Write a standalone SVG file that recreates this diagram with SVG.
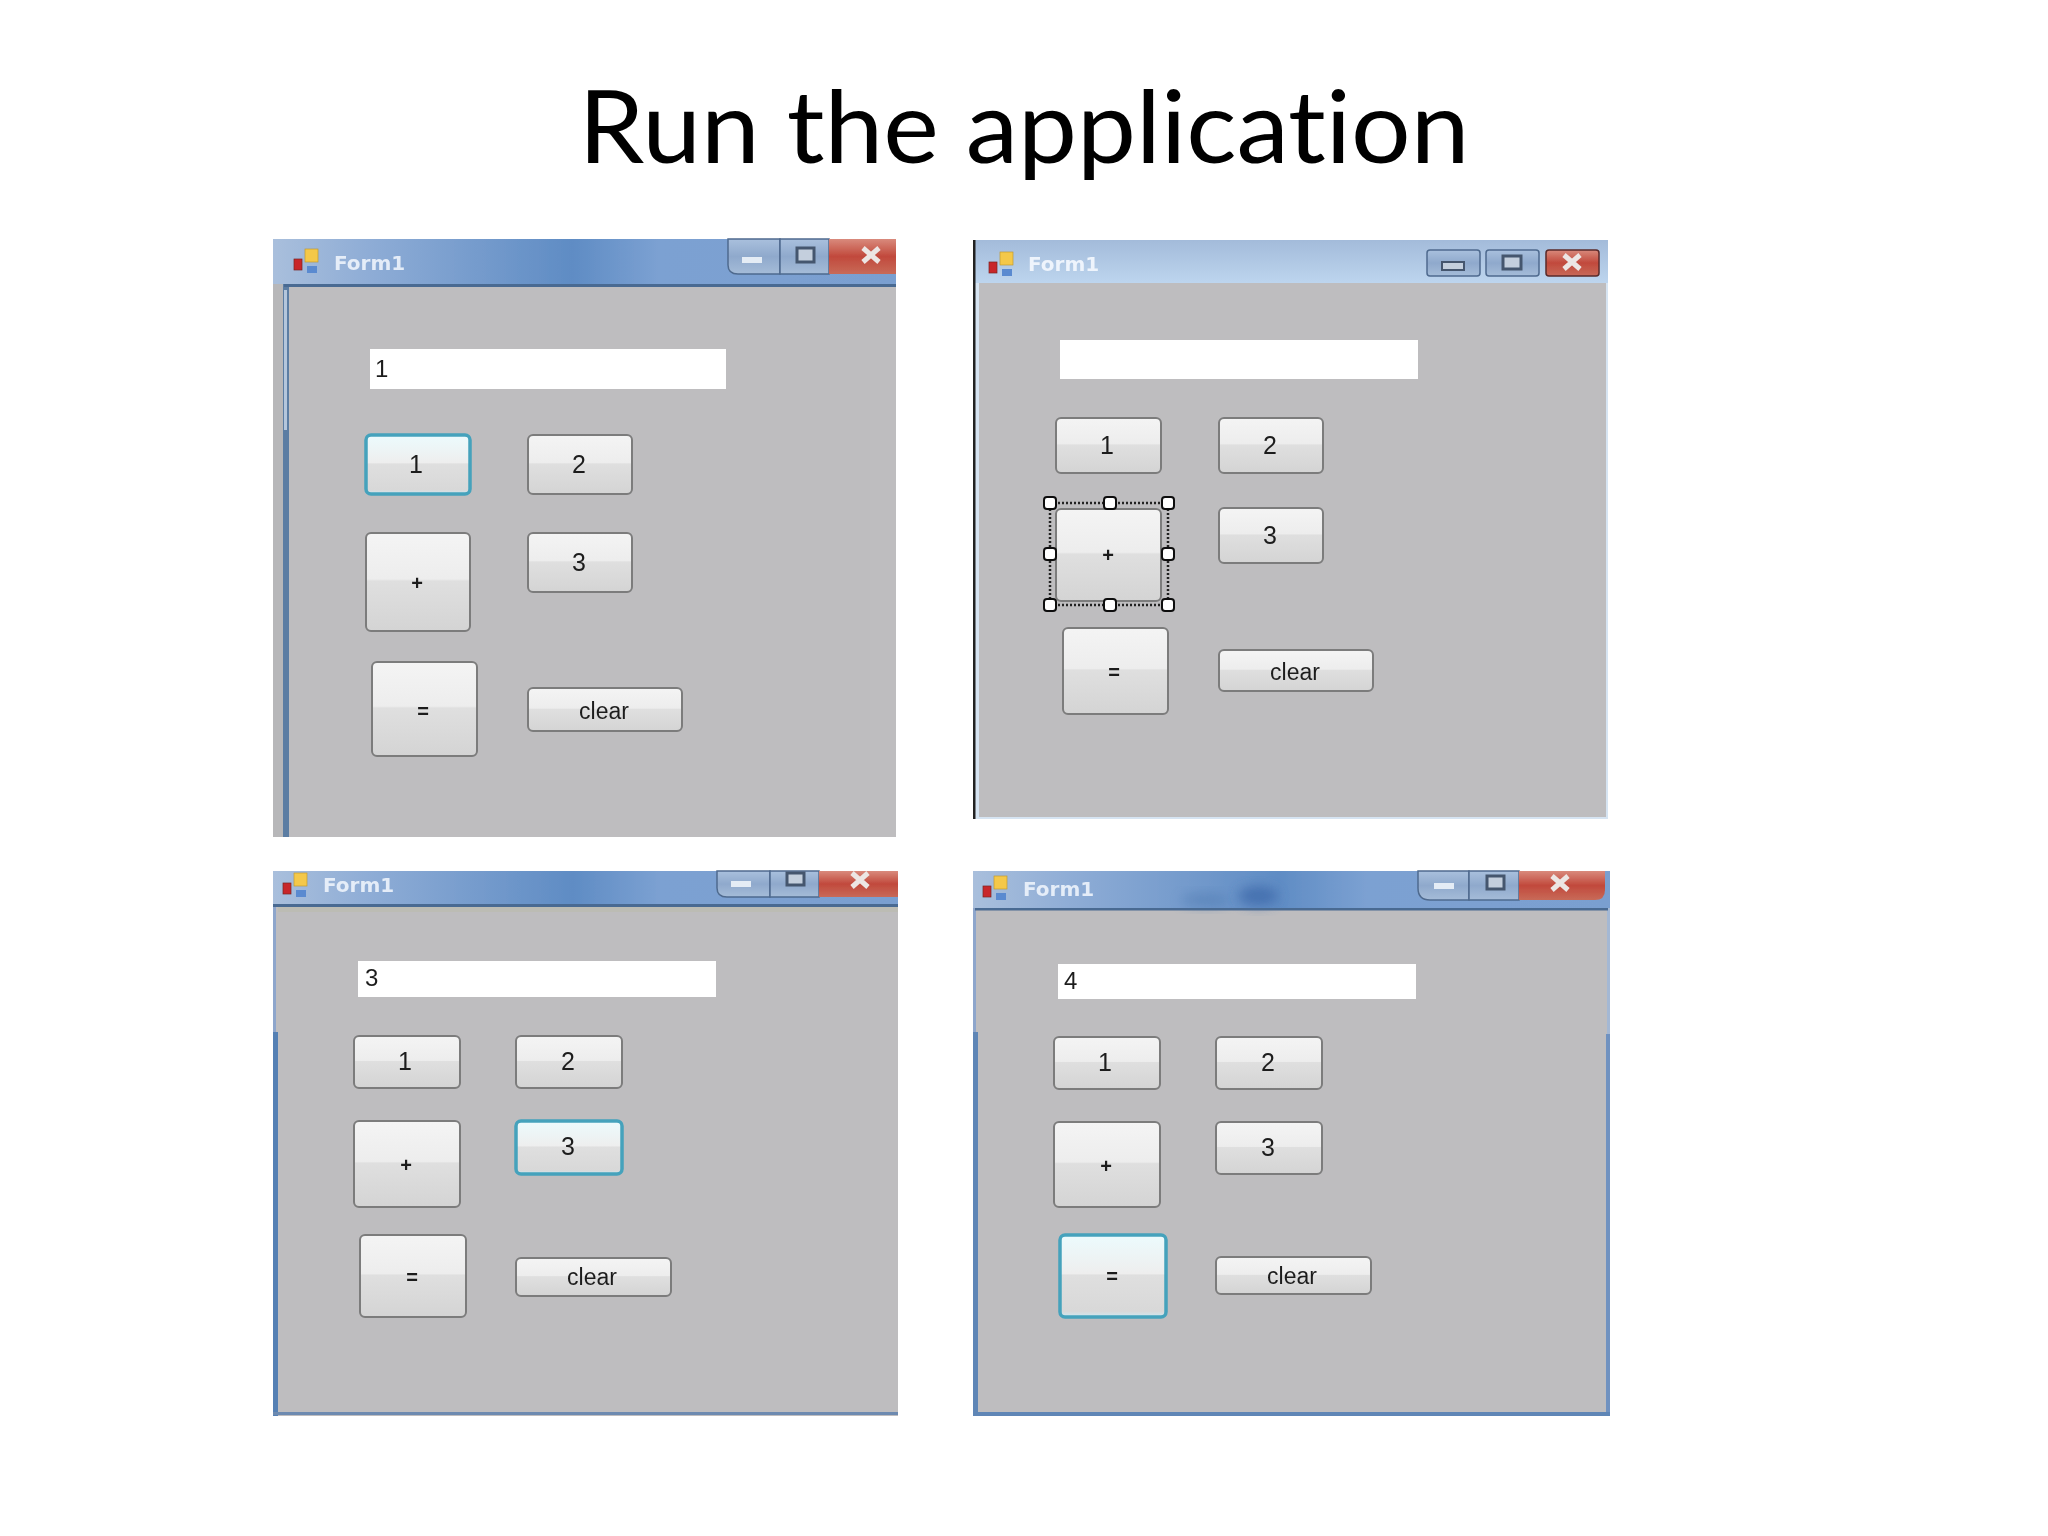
<svg xmlns="http://www.w3.org/2000/svg" width="2048" height="1536" viewBox="0 0 2048 1536">
<defs>
<filter id="soft" x="-5%" y="-5%" width="110%" height="110%"><feGaussianBlur stdDeviation="0.55"/></filter>
<filter id="capblur" x="-10%" y="-20%" width="120%" height="140%"><feGaussianBlur stdDeviation="0.7"/></filter>
<filter id="smudge" x="-50%" y="-50%" width="200%" height="200%"><feGaussianBlur stdDeviation="6"/></filter>
<linearGradient id="btn" x1="0" y1="0" x2="0" y2="1"><stop offset="0" stop-color="#f4f4f4"/><stop offset="0.47" stop-color="#ededed"/><stop offset="0.49" stop-color="#dfdfdf"/><stop offset="1" stop-color="#d4d4d4"/></linearGradient>
<linearGradient id="focus" x1="0" y1="0" x2="0" y2="1"><stop offset="0" stop-color="#ecfbfd"/><stop offset="0.47" stop-color="#eeeeee"/><stop offset="0.49" stop-color="#dfdfdf"/><stop offset="0.93" stop-color="#d8d8d8"/><stop offset="1" stop-color="#cfe9f2"/></linearGradient>
<linearGradient id="barDark" x1="0" y1="0" x2="1" y2="0"><stop offset="0" stop-color="#a9bfdc"/><stop offset="0.15" stop-color="#8fadd6"/><stop offset="0.48" stop-color="#5f8cc4"/><stop offset="0.62" stop-color="#7ca1d2"/><stop offset="1" stop-color="#7a9fd0"/></linearGradient>
<linearGradient id="barLight" x1="0" y1="0" x2="0" y2="1"><stop offset="0" stop-color="#a3bbda"/><stop offset="1" stop-color="#bdd5ee"/></linearGradient>
<linearGradient id="red" x1="0" y1="0" x2="0" y2="1"><stop offset="0" stop-color="#d98a7c"/><stop offset="0.5" stop-color="#c1493c"/><stop offset="1" stop-color="#c86a58"/></linearGradient>
<linearGradient id="ctl" x1="0" y1="0" x2="0" y2="1"><stop offset="0" stop-color="#a9c0dd"/><stop offset="0.5" stop-color="#8fa9cc"/><stop offset="1" stop-color="#a5bcd8"/></linearGradient>
<g id="icon"><rect x="0" y="10" width="8" height="11" fill="#c8282c" stroke="#7a2020" stroke-width="0.7"/><rect x="11" y="0" width="13" height="13" fill="#f4c84a" stroke="#c09a30" stroke-width="0.7"/><rect x="13" y="17" width="10" height="7" fill="#5a8ad0"/></g>
<path id="cross" d="M-8 -7L8 7M8 -7L-8 7" fill="none" stroke="#ece6e4" stroke-width="5"/>
</defs>
<style>
text{font-family:"Liberation Sans",Arial,sans-serif;fill:#1f1f1f}
svg>g{filter:url(#soft)}
.t{font-family:Lato,"Open Sans",sans-serif;font-size:100px;fill:#000;font-variant-ligatures:none}
.form{fill:#bebdbf}
.b{fill:url(#btn);stroke:#7c7c7c;stroke-width:2}
.f{fill:url(#focus);stroke:#45a2bc;stroke-width:3.5}
.box{fill:#fff}
.n{font-size:25px;text-anchor:middle}
.s{font-size:20px;text-anchor:middle;font-weight:bold}
.c{font-size:23px;text-anchor:middle}
.v{font-size:24px}
.cap{font-family:"DejaVu Sans",sans-serif;font-size:20px;font-weight:bold;fill:#eef4fc}
.cb{filter:url(#capblur);opacity:.9}
.h{fill:#fff;stroke:#111;stroke-width:2}
.sel{fill:none;stroke:#222;stroke-width:2.5;stroke-dasharray:2 2}
.cw{fill:url(#ctl);stroke:#4f6a8e;stroke-width:1.5}
.cd{fill:#e4ecf5}
.cm{fill:#c4cfdd;stroke:#44566e;stroke-width:3}
</style>
<rect width="2048" height="1536" fill="#fff"/>
<text id="title" class="t" x="1024" y="163" text-anchor="middle" textLength="891" lengthAdjust="spacingAndGlyphs">Run the application</text>

<g id="form-a">
<rect x="273" y="239" width="623" height="598" class="form"/>
<rect x="273" y="239" width="623" height="45" fill="url(#barDark)"/>
<rect x="273" y="284" width="16" height="553" fill="#b7b7b9"/>
<rect x="283" y="284" width="6" height="553" fill="#5b7da3"/>
<rect x="284" y="290" width="3" height="140" fill="#b4c6dc"/>
<rect x="284" y="284" width="612" height="3" fill="#4a6a92"/>
<use href="#icon" x="294" y="249"/>
<text class="cap cb" x="334" y="270">Form1</text>
<path d="M728 239V265Q728 274 738 274H780V239Z" class="cw"/>
<rect x="780" y="239" width="49" height="35" class="cw"/>
<rect x="829" y="239" width="67" height="35" fill="url(#red)"/>
<rect x="742" y="257" width="20" height="6" class="cd"/>
<rect x="797" y="248" width="17" height="14" class="cm"/>
<use href="#cross" x="871" y="255"/>
</g>
<g id="form-a-text"><rect x="370" y="349" width="356" height="40" class="box"/><text class="v" x="375" y="377">1</text></g>
<g id="a-btn-1"><rect x="366" y="435" width="104" height="59" rx="5" class="f"/><text class="n" x="416" y="473">1</text></g>
<g id="a-btn-2"><rect x="528" y="435" width="104" height="59" rx="5" class="b"/><text class="n" x="579" y="473">2</text></g>
<g id="a-btn-plus"><rect x="366" y="533" width="104" height="98" rx="5" class="b"/><text class="s" x="417" y="590">+</text></g>
<g id="a-btn-3"><rect x="528" y="533" width="104" height="59" rx="5" class="b"/><text class="n" x="579" y="571">3</text></g>
<g id="a-btn-eq"><rect x="372" y="662" width="105" height="94" rx="5" class="b"/><text class="s" x="423" y="718">=</text></g>
<g id="a-btn-clear"><rect x="528" y="688" width="154" height="43" rx="5" class="b"/><text class="c" x="604" y="719">clear</text></g>

<g id="form-b">
<rect x="973" y="240" width="635" height="579" fill="#d6e4f2"/>
<rect x="973" y="240" width="635" height="43" fill="url(#barLight)"/>
<rect x="973" y="240" width="2.5" height="579" fill="#222"/>
<rect x="979" y="283" width="627" height="534" class="form"/>
<use href="#icon" x="989" y="252"/>
<text class="cap" x="1028" y="271">Form1</text>
<rect x="1427" y="250" width="53" height="26" rx="3" class="cw"/>
<rect x="1442" y="262" width="22" height="8" fill="#c4cfdd" stroke="#44566e" stroke-width="2"/>
<rect x="1486" y="250" width="53" height="26" rx="3" class="cw"/>
<rect x="1503" y="256" width="18" height="13" class="cm"/>
<rect x="1546" y="250" width="53" height="26" rx="3" fill="url(#red)" stroke="#5a2a2a" stroke-width="1.5"/>
<use href="#cross" x="1572" y="262"/>
</g>
<g id="form-b-text"><rect x="1060" y="340" width="358" height="39" class="box"/></g>
<g id="b-btn-1"><rect x="1056" y="418" width="105" height="55" rx="5" class="b"/><text class="n" x="1107" y="454">1</text></g>
<g id="b-btn-2"><rect x="1219" y="418" width="104" height="55" rx="5" class="b"/><text class="n" x="1270" y="454">2</text></g>
<g id="b-btn-plus"><rect x="1056" y="509" width="105" height="92" rx="5" class="b"/><text class="s" x="1108" y="562">+</text>
<rect x="1050" y="503" width="118" height="102" class="sel"/>
<rect x="1044" y="497" width="12" height="12" rx="3" class="h"/><rect x="1104" y="497" width="12" height="12" rx="3" class="h"/><rect x="1162" y="497" width="12" height="12" rx="3" class="h"/>
<rect x="1044" y="548" width="12" height="12" rx="3" class="h"/><rect x="1162" y="548" width="12" height="12" rx="3" class="h"/>
<rect x="1044" y="599" width="12" height="12" rx="3" class="h"/><rect x="1104" y="599" width="12" height="12" rx="3" class="h"/><rect x="1162" y="599" width="12" height="12" rx="3" class="h"/></g>
<g id="b-btn-3"><rect x="1219" y="508" width="104" height="55" rx="5" class="b"/><text class="n" x="1270" y="544">3</text></g>
<g id="b-btn-eq"><rect x="1063" y="628" width="105" height="86" rx="5" class="b"/><text class="s" x="1114" y="679">=</text></g>
<g id="b-btn-clear"><rect x="1219" y="650" width="154" height="41" rx="5" class="b"/><text class="c" x="1295" y="680">clear</text></g>

<g id="form-c">
<rect x="273" y="871" width="625" height="545" class="form"/>
<rect x="273" y="871" width="625" height="33" fill="url(#barDark)"/>
<rect x="273" y="1032" width="5" height="384" fill="#5580b4"/>
<rect x="273" y="904" width="3" height="128" fill="#8ea6cc"/>
<rect x="273" y="904" width="625" height="3" fill="#4a6a92"/>
<rect x="278" y="907" width="620" height="5" fill="#bcbcb4"/>
<rect x="273" y="1412" width="625" height="3" fill="#6d8ab0"/>
<use href="#icon" x="283" y="873"/>
<text class="cap cb" x="323" y="892">Form1</text>
<path d="M717 871V888Q717 897 727 897H770V871Z" class="cw"/>
<rect x="770" y="871" width="49" height="26" class="cw"/>
<rect x="819" y="871" width="79" height="26" fill="url(#red)"/>
<rect x="731" y="881" width="20" height="6" class="cd"/>
<rect x="787" y="873" width="17" height="12" class="cm"/>
<use href="#cross" x="860" y="880"/>
</g>
<g id="form-c-text"><rect x="358" y="961" width="358" height="36" class="box"/><text class="v" x="365" y="986">3</text></g>
<g id="c-btn-1"><rect x="354" y="1036" width="106" height="52" rx="5" class="b"/><text class="n" x="405" y="1070">1</text></g>
<g id="c-btn-2"><rect x="516" y="1036" width="106" height="52" rx="5" class="b"/><text class="n" x="568" y="1070">2</text></g>
<g id="c-btn-plus"><rect x="354" y="1121" width="106" height="86" rx="5" class="b"/><text class="s" x="406" y="1172">+</text></g>
<g id="c-btn-3"><rect x="516" y="1121" width="106" height="53" rx="5" class="f"/><text class="n" x="568" y="1155">3</text></g>
<g id="c-btn-eq"><rect x="360" y="1235" width="106" height="82" rx="5" class="b"/><text class="s" x="412" y="1284">=</text></g>
<g id="c-btn-clear"><rect x="516" y="1258" width="155" height="38" rx="5" class="b"/><text class="c" x="592" y="1285">clear</text></g>

<g id="form-d">
<rect x="973" y="871" width="637" height="545" class="form"/>
<rect x="973" y="871" width="637" height="37" fill="url(#barDark)"/>
<ellipse cx="1205" cy="900" rx="24" ry="7" fill="#4f79b0" opacity=".5" filter="url(#smudge)"/>
<ellipse cx="1258" cy="896" rx="20" ry="10" fill="#3f6bab" opacity=".8" filter="url(#smudge)"/>
<rect x="973" y="1032" width="5" height="384" fill="#5f86b6"/>
<rect x="973" y="908" width="3" height="124" fill="#8ea6cc"/>
<rect x="1606" y="1034" width="4" height="382" fill="#6f92c0"/>
<rect x="1607" y="908" width="3" height="126" fill="#a4b8d4"/>
<rect x="973" y="1412" width="637" height="4" fill="#5f86b6"/>
<rect x="975" y="908" width="633" height="2.5" fill="#4a6a92"/>
<use href="#icon" x="983" y="876"/>
<text class="cap cb" x="1023" y="896">Form1</text>
<path d="M1418 871V888Q1418 900 1430 900H1469V871Z" class="cw"/>
<rect x="1469" y="871" width="50" height="29" class="cw"/>
<path d="M1519 871H1605V890Q1605 900 1595 900H1519Z" fill="url(#red)"/>
<rect x="1434" y="883" width="20" height="6" class="cd"/>
<rect x="1487" y="876" width="17" height="13" class="cm"/>
<use href="#cross" x="1560" y="883"/>
</g>
<g id="form-d-text"><rect x="1058" y="964" width="358" height="35" class="box"/><text class="v" x="1064" y="989">4</text></g>
<g id="d-btn-1"><rect x="1054" y="1037" width="106" height="52" rx="5" class="b"/><text class="n" x="1105" y="1071">1</text></g>
<g id="d-btn-2"><rect x="1216" y="1037" width="106" height="52" rx="5" class="b"/><text class="n" x="1268" y="1071">2</text></g>
<g id="d-btn-plus"><rect x="1054" y="1122" width="106" height="85" rx="5" class="b"/><text class="s" x="1106" y="1173">+</text></g>
<g id="d-btn-3"><rect x="1216" y="1122" width="106" height="52" rx="5" class="b"/><text class="n" x="1268" y="1156">3</text></g>
<g id="d-btn-eq"><rect x="1060" y="1235" width="106" height="82" rx="5" class="f"/><text class="s" x="1112" y="1283">=</text></g>
<g id="d-btn-clear"><rect x="1216" y="1257" width="155" height="37" rx="5" class="b"/><text class="c" x="1292" y="1284">clear</text></g>
<g id="connectors"/>
</svg>
